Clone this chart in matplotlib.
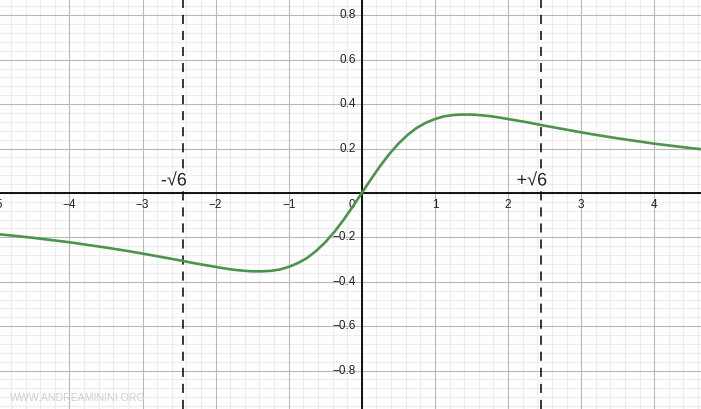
import numpy as np
import matplotlib.pyplot as plt
import matplotlib.patheffects as pe
from matplotlib.transforms import offset_copy

plt.rcParams['font.family'] = ['Liberation Sans', 'DejaVu Sans']

# points
x_vals = [-5.0, -4.75, -4.5, -4.25, -4.0, -3.75, -3.5, -3.25, -3.0, -2.75, -2.5, -2.25,
          -2.0, -1.875, -1.75, -1.625, -1.5, -1.375, -1.25, -1.125, -1.0, -0.875, -0.75,
          -0.625, -0.5, -0.375, -0.25, -0.125, 0.0, 0.125, 0.25, 0.375, 0.5, 0.625, 0.75,
          0.875, 1.0, 1.125, 1.25, 1.375, 1.5, 1.625, 1.75, 1.875, 2.0, 2.25, 2.5, 2.75,
          3.0, 3.25, 3.5, 3.75, 4.0, 4.25, 4.5, 4.75]
y_vals = [-0.185, -0.193, -0.202, -0.212, -0.222, -0.234, -0.246, -0.259, -0.273, -0.288,
          -0.303, -0.319, -0.333, -0.340, -0.346, -0.350, -0.353, -0.353, -0.351, -0.345,
          -0.333, -0.316, -0.293, -0.261, -0.222, -0.175, -0.121, -0.062, 0.0, 0.062, 0.121,
          0.175, 0.222, 0.261, 0.293, 0.316, 0.333, 0.345, 0.351, 0.353, 0.353, 0.350, 0.346,
          0.340, 0.333, 0.319, 0.303, 0.288, 0.273, 0.259, 0.246, 0.234, 0.222, 0.212,
          0.202, 0.193]

asymptote_x = [-2.449, 2.449]
asymptote_labels = ['-√6', '+√6']

x_ticks = [-5, -4, -3, -2, -1, 1, 2, 3, 4]
y_ticks = [-0.8, -0.6, -0.4, -0.2, 0.2, 0.4, 0.6, 0.8]

fig = plt.figure(figsize=(7.01, 4.09), dpi=100)
ax = fig.add_axes([0, 0, 1, 1])
ax.set_xlim(-4.95, 4.64)
ax.set_ylim(-0.973, 0.869)
ax.axis('off')

# grid
for gx in np.arange(-5, 5.01, 0.2):
    major = abs(gx - round(gx)) < 1e-6
    ax.axvline(gx, color='#b8b8b8' if major else '#ececec', lw=0.8, zorder=1 if major else 0)
for gy in np.arange(-1, 1.001, 0.04):
    major = abs(gy * 5 - round(gy * 5)) < 1e-6
    ax.axhline(gy, color='#b8b8b8' if major else '#ececec', lw=0.8, zorder=1 if major else 0)

ax.axhline(0, color='black', lw=1.3, zorder=2)
ax.axvline(0, color='black', lw=1.3, zorder=2)

# tick labels
xt = offset_copy(ax.transData, fig=fig, x=0, y=-12, units='dots')
for t in x_ticks:
    ax.text(t, 0, '−%d' % -t if t < 0 else str(t), transform=xt, ha='center', va='center',
            fontsize=8.5, color='#222222')
ax.text(0, 0, '0', transform=offset_copy(ax.transData, fig=fig, x=-10, y=-12, units='dots'),
        ha='center', va='center', fontsize=8.5, color='#222222')
yt = offset_copy(ax.transData, fig=fig, x=-6, y=0, units='dots')
for t in y_ticks:
    lab = ('−%.1f' % -t) if t < 0 else '%.1f' % t
    ax.text(0, t, lab, transform=yt, ha='right', va='center', fontsize=8.5, color='#222222')

# inflection lines
for xv, lab in zip(asymptote_x, asymptote_labels):
    ax.axvline(xv, color='black', lw=1.1, dashes=(6, 4.5), zorder=3)
    ax.text(xv, 0, lab, transform=offset_copy(ax.transData, fig=fig, x=-9, y=12, units='dots'),
            ha='center', va='center', fontsize=13, color='#222222', zorder=4,
            path_effects=[pe.withStroke(linewidth=3, foreground='white')])

ax.plot(x_vals, y_vals, color='#4c934c', lw=1.9, zorder=5, solid_capstyle='round')

ax.text(10, 11, 'WWW.ANDREAMININI.ORG', transform=None, fontsize=7.6, color='#d0d0d0',
        ha='left', va='center')

fig.savefig('out.png', dpi=100)
